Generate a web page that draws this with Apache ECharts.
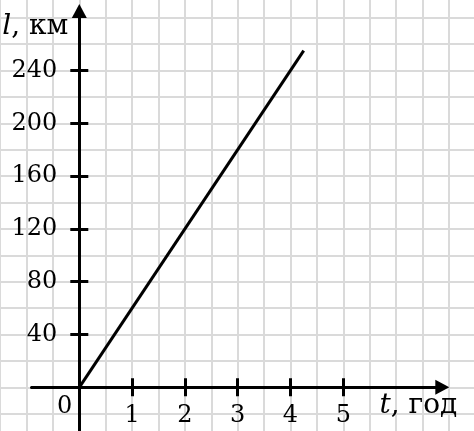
<!DOCTYPE html>
<html><head><meta charset="utf-8">
<script src="https://cdn.jsdelivr.net/npm/echarts@6/dist/echarts.min.js"></script>
<style>html,body{margin:0;padding:0;background:#fff}#c{width:474px;height:431px}</style>
</head><body><div id="c"></div>
<script>
const timeTicks = [1, 2, 3, 4, 5];
const distTicks = [40, 80, 120, 160, 200, 240];
const originTick = [0];
const lineT = [0, 4.25];
const lineL = [0, 255];

const FONT = 'DejaVu Serif';
const black = '#000';
const axisLineStyle = { color: black, width: 3 };
const tickStyle = { color: black, width: 3 };
const labelStyle = { fontFamily: FONT, fontSize: 24, color: black };
const hidden = { axisLine: { show: false }, axisTick: { show: false }, splitLine: { show: false } };

const chart = echarts.init(document.getElementById('c'), null, { renderer: 'canvas' });
chart.setOption({
  backgroundColor: '#fff',
  animation: false,
  grid: [
    { left: 31.78, right: 31.7, top: 11.1, bottom: -1.18, outerBoundsMode: 'none', containLabel: false },
    { left: 0.1, right: -1.3, top: -8.7, bottom: -9.1, outerBoundsMode: 'none', containLabel: false },
    { left: 79.3, right: 31.7, top: 11.1, bottom: 43.7, outerBoundsMode: 'none', containLabel: false }
  ],
  xAxis: [
    {
      gridIndex: 0, type: 'value', min: -0.9, max: 6.875, position: 'bottom', z: 5,
      axisLine: { onZero: true, onZeroAxisIndex: 0, symbol: ['none', 'triangle'], symbolSize: [15, 14], lineStyle: axisLineStyle },
      axisTick: { show: true, customValues: timeTicks, length: 9, inside: false, lineStyle: tickStyle },
      axisLabel: { show: false },
      splitLine: { show: false },
      name: '{i|t}, год', nameLocation: 'end', nameGap: 15,
      nameTextStyle: { fontFamily: FONT, fontSize: 28, color: black, align: 'right', verticalAlign: 'top', padding: [4, 0, 0, 0],
        rich: { i: { fontFamily: FONT, fontSize: 28, fontStyle: 'italic', color: black } } }
    },
    {
      gridIndex: 0, type: 'value', min: -0.9, max: 6.875, position: 'bottom', z: 5,
      axisLine: { onZero: true, onZeroAxisIndex: 1, lineStyle: axisLineStyle },
      axisTick: { show: true, customValues: timeTicks, length: 9, inside: true, lineStyle: tickStyle },
      axisLabel: { show: false },
      splitLine: { show: false }
    },
    {
      gridIndex: 1, type: 'value', min: -1.5, max: 7.5, interval: 0.5, z: 0,
      axisLine: { show: false }, axisTick: { show: false }, axisLabel: { show: false },
      splitLine: { show: true, lineStyle: { color: '#dadada', width: 2 } }
    },
    {
      gridIndex: 2, type: 'value', min: 0, max: 6.875, position: 'bottom', z: 5, ...hidden,
      axisLabel: { customValues: timeTicks, margin: 16, ...labelStyle }
    }
  ],
  yAxis: [
    {
      gridIndex: 0, type: 'value', min: -34, max: 285, position: 'left', z: 5,
      axisLine: { onZero: true, onZeroAxisIndex: 0, symbol: ['none', 'triangle'], symbolSize: [15, 14], lineStyle: axisLineStyle },
      axisTick: { show: true, customValues: distTicks, length: 9, inside: false, lineStyle: tickStyle },
      axisLabel: { show: false },
      splitLine: { show: false },
      name: '{i|l}, км', nameLocation: 'end', nameGap: 0,
      nameTextStyle: { fontFamily: FONT, fontSize: 28, color: black, align: 'right', verticalAlign: 'top', padding: [2, 11, 0, 0],
        rich: { i: { fontFamily: FONT, fontSize: 28, fontStyle: 'italic', color: black } } }
    },
    {
      gridIndex: 0, type: 'value', min: -34, max: 285, position: 'left', z: 5,
      axisLine: { onZero: true, onZeroAxisIndex: 1, lineStyle: axisLineStyle },
      axisTick: { show: true, customValues: distTicks, length: 9, inside: true, lineStyle: tickStyle },
      axisLabel: { show: false },
      splitLine: { show: false }
    },
    {
      gridIndex: 1, type: 'value', min: -40, max: 300, interval: 20, z: 0,
      axisLine: { show: false }, axisTick: { show: false }, axisLabel: { show: false },
      splitLine: { show: true, lineStyle: { color: '#dadada', width: 2 } }
    },
    {
      gridIndex: 2, type: 'value', min: 0, max: 285, position: 'left', z: 5, ...hidden,
      axisLabel: { customValues: distTicks, margin: 22, ...labelStyle }
    },
    {
      gridIndex: 2, type: 'value', min: 0, max: 285, position: 'left', z: 5, ...hidden,
      axisLabel: { customValues: originTick, margin: 7, verticalAlign: 'top', padding: [7, 0, 0, 0], ...labelStyle }
    }
  ],
  series: [
    {
      type: 'line', xAxisIndex: 0, yAxisIndex: 0, z: 10,
      data: lineT.map((t, i) => [t, lineL[i]]),
      symbol: 'none', lineStyle: { color: black, width: 3 }
    }
  ]
});
</script></body></html>
